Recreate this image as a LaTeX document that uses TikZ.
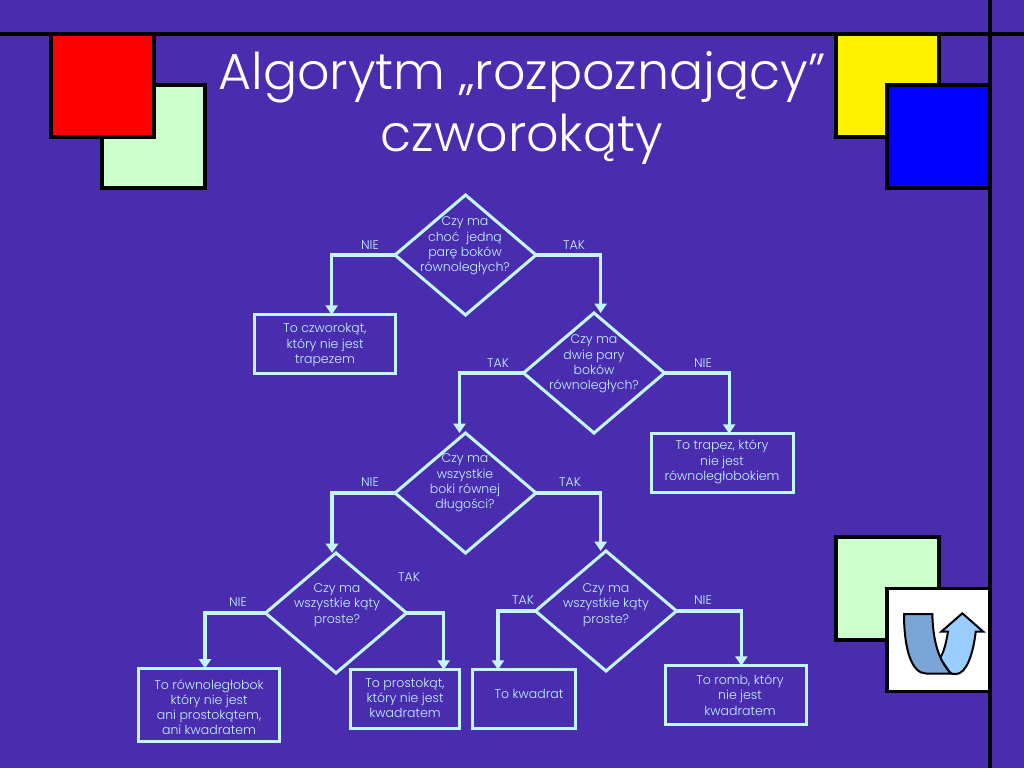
\documentclass[tikz,border=0pt]{standalone}
\usepackage{fontspec}
\setmainfont{Poppins}
\newfontfamily\titlefont{Poppins Light}
\usetikzlibrary{shapes.geometric,arrows.meta}
\definecolor{slidebg}{HTML}{4A2CAE}
\definecolor{flowline}{HTML}{C4F6FF}
\definecolor{palegreen}{HTML}{CCFFCC}
\definecolor{ribbondark}{HTML}{7BA5D6}
\definecolor{ribbonlight}{HTML}{99CCFF}
\tikzset{
  sq/.style={rectangle, draw=black, line width=2.6pt, minimum size=77pt, inner sep=0pt, outer sep=0pt},
  question/.style={diamond, draw=flowline, line width=2.3pt, minimum width=105.75pt, minimum height=90pt, inner sep=0pt, outer sep=0pt},
  answer/.style={rectangle, draw=flowline, line width=2.3pt, minimum height=44pt, inner sep=0pt, outer sep=0pt},
  txt/.style={text=flowline, font=\titlefont\fontsize{9.4}{11.4}\selectfont, align=center, inner sep=0pt},
  flow/.style={draw=flowline, line width=2.3pt, -{Triangle[width=9pt,length=7pt]}},
}
\begin{document}
\begin{tikzpicture}[x=0.75pt,y=-0.75pt]
\useasboundingbox[fill=slidebg] (0,0) rectangle (1024,768);
\draw[black, line width=2.4pt](0,34) -- (1024,34);
\draw[black, line width=2.4pt](990,0) -- (990,768);
% corner squares
\node[sq, fill=palegreen] (sq1) at (153.5,136.5){};
\node[sq, fill=red] (sq0) at (102.5,85.5){};
\node[sq, fill=yellow] (sq2) at (887.5,85.5){};
\node[sq, fill=blue] (sq3) at (938.5,136.5){};
\node[sq, fill=palegreen] (sq4) at (887.5,588.5){};
\node[sq, fill=white] (sq5) at (938.5,640){};
% return icon
\draw[black, line width=1.5pt, fill=ribbonlight, line join=miter](948,631.7) .. controls (946,643) and (944,652) .. (940,658) -- (950,673) .. controls (952,674) and (954,674) .. (956,674) .. controls (966,674) and (973,655) .. (975.7,631.7) -- (983.3,631.7) -- (962.3,613.3) -- (941.3,631.7) -- cycle;
\draw[black, line width=1.5pt, fill=ribbondark](904,614) -- (932.3,614) .. controls (933,640) and (938,660) .. (951,673.5) -- (926,673.5) .. controls (912,673.5) and (904,650) .. (904,614) -- cycle;
% title
\node[text=white, font=\titlefont\fontsize{38}{46.5}\selectfont, align=center, inner sep=0pt] (title) at (522,108){Algorytm „rozpoznający”\\czworokąty};
% questions
\node[question] (d0) at (465.5,255){};
\node[question] (d1) at (594,373){};
\node[question] (d2) at (465.5,493){};
\node[question] (d3) at (336,613){};
\node[question] (d4) at (606,611){};
% answers
\node[answer, minimum width=106pt] (b0) at (325,344){};
\node[answer, minimum width=106.5pt] (b1) at (722.5,463){};
\node[answer, minimum width=106pt, minimum height=55pt] (b2) at (209,705){};
\node[answer, minimum width=82pt] (b3) at (405,699){};
\node[answer, minimum width=77.5pt] (b4) at (524,699){};
\node[answer, minimum width=106pt] (b5) at (736,695){};
% connectors
\draw[flow](d0.west) -| ([xshift=5pt]b0.north);
\draw[flow](d0.east) -| ([xshift=5pt]d1.north);
\draw[flow](d1.west) -| ([xshift=-4.5pt]d2.north);
\draw[flow](d1.east) -| ([xshift=5pt]b1.north);
\draw[flow](d2.west) -| ([xshift=-3pt]d3.north);
\draw[flow](d2.east) -| ([xshift=-4pt]d4.north);
\draw[flow](d3.west) -| ([xshift=-3pt]b2.north);
\draw[flow](d3.east) -| ([xshift=29pt]b3.north);
\draw[flow](d4.west) -| ([xshift=-19.5pt]b4.north);
\draw[flow](d4.east) -| ([xshift=4pt]b5.north);
% texts
\node[txt] (t0) at (465,246){Czy ma\\choć\ \ jedną\\parę boków\\równoległych?};
\node[txt] (t1) at (594,364){Czy ma\\dwie pary\\boków\\równoległych?};
\node[txt] (t2) at (465,483){Czy ma\\wszystkie\\boki równej\\długości?};
\node[txt] (t3) at (337,605){Czy ma\\wszystkie kąty\\proste?};
\node[txt] (t4) at (606,605){Czy ma\\wszystkie kąty\\proste?};
\node[txt] (t5) at (325,345){To czworokąt,\\który nie jest\\trapezem};
\node[txt] (t6) at (722,462){To trapez, który\\nie jest\\równoległobokiem};
\node[txt] (t7) at (209,707){To równoległobok\\który nie jest\\ani prostokątem,\\ani kwadratem};
\node[txt] (t8) at (405,698){To prostokąt,\\który nie jest\\kwadratem};
\node[txt] (t9) at (529,694){To kwadrat};
\node[txt] (t10) at (740,695){To romb, który\\nie jest\\kwadratem};
% branch labels
\node[txt] (l0) at (370,245){NIE};
\node[txt] (l1) at (574,245){TAK};
\node[txt] (l2) at (498,363){TAK};
\node[txt] (l3) at (703,363){NIE};
\node[txt] (l4) at (370,482){NIE};
\node[txt] (l5) at (570,482){TAK};
\node[txt] (l6) at (409,577){TAK};
\node[txt] (l7) at (238,602){NIE};
\node[txt] (l8) at (523,600){TAK};
\node[txt] (l9) at (703,600){NIE};
\end{tikzpicture}
\end{document}
